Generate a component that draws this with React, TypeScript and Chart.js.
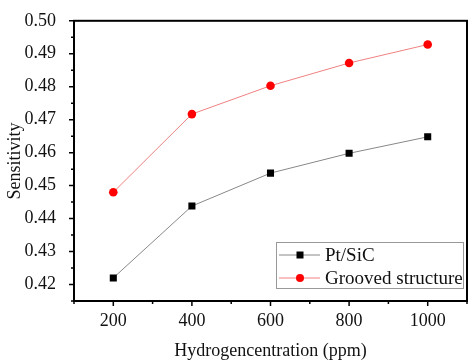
import React, { useEffect, useRef } from "react";
import { Chart, registerables } from "chart.js";
Chart.register(...registerables);

const concentrations = [200, 400, 600, 800, 1000];
const ptSiC = [0.422, 0.4438, 0.4538, 0.4598, 0.4648];
const grooved = [0.448, 0.4717, 0.4803, 0.4872, 0.4928];
const xTicks = [200, 400, 600, 800, 1000];
const yTicks = [0.42, 0.43, 0.44, 0.45, 0.46, 0.47, 0.48, 0.49, 0.5];
const seriesNames = ["Pt/SiC", "Grooved structure"];

const FONT = "'Liberation Serif', 'Times New Roman', serif";

const framePlugin = {
  id: "frame",
  afterDraw(chart: any) {
    const { ctx, chartArea: a } = chart;
    const xs = chart.scales.x;
    const ys = chart.scales.y;
    ctx.save();
    ctx.strokeStyle = "#000";
    ctx.lineWidth = 2;
    ctx.strokeRect(a.left, a.top, a.right - a.left, a.bottom - a.top);
    ctx.lineWidth = 1.5;
    ctx.beginPath();
    for (let v = 100; v <= 1100; v += 100) {
      const px = xs.getPixelForValue(v);
      const major = v % 200 === 0;
      ctx.moveTo(px, a.bottom);
      ctx.lineTo(px, a.bottom + (major ? 5 : 3));
    }
    for (let i = 0; i <= 17; i++) {
      const v = 0.415 + i * 0.005;
      const py = ys.getPixelForValue(v);
      const major = i % 2 === 1;
      ctx.moveTo(a.left, py);
      ctx.lineTo(a.left - (major ? 5 : 3), py);
    }
    ctx.stroke();

    // legend
    const lx = 276, ly = 242, lw = 187, lh = 46;
    ctx.lineWidth = 1;
    ctx.strokeStyle = "#999";
    ctx.fillStyle = "#fff";
    ctx.fillRect(lx, ly, lw, lh);
    ctx.strokeRect(lx + 0.5, ly + 0.5, lw, lh);
    const rows = [
      { y: 255, line: "#888", mark: "#000", square: true },
      { y: 278, line: "#f08080", mark: "#ff0000", square: false },
    ];
    rows.forEach((r, i) => {
      ctx.strokeStyle = r.line;
      ctx.lineWidth = 1;
      ctx.beginPath();
      ctx.moveTo(279, r.y);
      ctx.lineTo(320, r.y);
      ctx.stroke();
      ctx.fillStyle = r.mark;
      if (r.square) {
        ctx.fillRect(296.5, r.y - 3.5, 7, 7);
      } else {
        ctx.beginPath();
        ctx.arc(300, r.y, 4, 0, Math.PI * 2);
        ctx.fill();
      }
      ctx.fillStyle = "#111";
      ctx.font = `19px ${FONT}`;
      ctx.textBaseline = "middle";
      ctx.textAlign = "left";
      ctx.fillText(seriesNames[i], 325, r.y + 1);
    });
    ctx.restore();
  },
};

export default function App() {
  const ref = useRef<HTMLCanvasElement>(null);
  useEffect(() => {
    document.body.style.margin = "0";
    const chart = new Chart(ref.current!, {
      type: "line",
      data: {
        datasets: [
          {
            label: seriesNames[0],
            data: concentrations.map((x, i) => ({ x, y: ptSiC[i] })),
            borderColor: "#888",
            borderWidth: 1,
            pointStyle: "rect",
            pointRadius: 5,
            pointBackgroundColor: "#000",
            pointBorderWidth: 0,
          },
          {
            label: seriesNames[1],
            data: concentrations.map((x, i) => ({ x, y: grooved[i] })),
            borderColor: "#f08080",
            borderWidth: 1,
            pointStyle: "circle",
            pointRadius: 4.3,
            pointBackgroundColor: "#ff0000",
            pointBorderWidth: 0,
          },
        ],
      },
      options: {
        responsive: false,
        animation: false,
        layout: { padding: { top: 12, right: 7, left: 0, bottom: 0 } },
        plugins: { legend: { display: false }, tooltip: { enabled: false } },
        scales: {
          x: {
            type: "linear",
            min: 100,
            max: 1100,
            afterBuildTicks: (s: any) => {
              s.ticks = xTicks.map((v) => ({ value: v }));
            },
            afterFit: (s: any) => {
              s.height = 63;
            },
            grid: { display: false },
            border: { display: false },
            ticks: {
              color: "#111",
              font: { family: FONT, size: 18 },
              padding: 1,
              callback: (v: any) => String(v),
            },
            title: {
              display: true,
              text: "Hydrogencentration (ppm)",
              color: "#111",
              font: { family: FONT, size: 18 },
              padding: { top: 4, bottom: 2 },
            },
          },
          y: {
            type: "linear",
            min: 0.415,
            max: 0.5,
            afterBuildTicks: (s: any) => {
              s.ticks = yTicks.map((v) => ({ value: v }));
            },
            afterFit: (s: any) => {
              s.width = 74;
            },
            grid: { display: false },
            border: { display: false },
            ticks: {
              color: "#111",
              font: { family: FONT, size: 18 },
              padding: 10,
              callback: (v: any) => Number(v).toFixed(2),
            },
            title: {
              display: true,
              text: "Sensitivity",
              color: "#111",
              font: { family: FONT, size: 18 },
              padding: { bottom: 0 },
            },
          },
        },
      },
      plugins: [framePlugin],
    } as any);
    return () => chart.destroy();
  }, []);
  return (
    <div style={{ width: 474, height: 364 }}>
      <canvas ref={ref} width={474} height={364} />
    </div>
  );
}
